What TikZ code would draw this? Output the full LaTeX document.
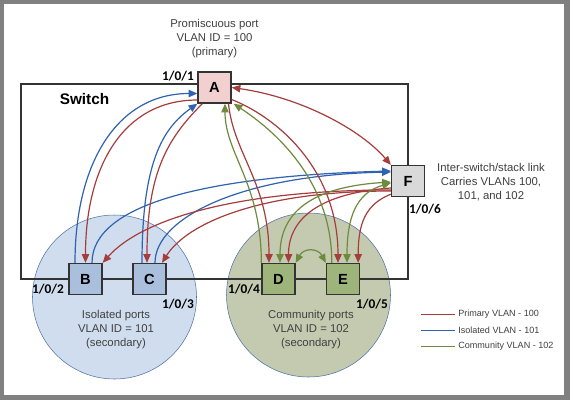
\documentclass[tikz,border=0pt]{standalone}
\usepackage{fontspec}
\setmainfont{Liberation Sans}
\newfontfamily\portfont{Carlito}
\usepackage{tikz}
\usetikzlibrary{arrows.meta,calc}

\definecolor{vlanred}{HTML}{A63D3D}
\definecolor{vlanblue}{HTML}{2F62B0}
\definecolor{vlangreen}{HTML}{6E8B3D}
\definecolor{isofill}{HTML}{D0DDEE}
\definecolor{comfill}{HTML}{C3CAB0}
\definecolor{ringline}{HTML}{4F74A6}
\definecolor{boxA}{HTML}{F2D0D0}
\definecolor{boxiso}{HTML}{A9BFDC}
\definecolor{boxcom}{HTML}{9DB57B}
\definecolor{boxF}{HTML}{D9D9D9}

\begin{document}
\begin{tikzpicture}[x=0.75pt,y=0.75pt,yscale=-1,xscale=1,
    port/.style={draw=black!80,line width=1pt,minimum width=24.75pt,minimum height=23.25pt,inner sep=0pt,font=\fontsize{11}{13}\selectfont\bfseries},
    portnum/.style={inner sep=0.75pt,font=\portfont\fontsize{10}{12}\selectfont\bfseries},
    note/.style={inner sep=0.75pt,align=center,text=black!75,font=\fontsize{8.5}{10.5}\selectfont},
    legtext/.style={inner sep=0.75pt,anchor=west,text=black!75,font=\fontsize{6.8}{8}\selectfont},
    primary/.style={draw=vlanred,line width=0.9pt},
    isolated/.style={draw=vlanblue,line width=0.9pt},
    community/.style={draw=vlangreen,line width=0.9pt},
    tip/.style={-{Triangle[length=6.5pt,width=5.5pt]}},
    twotip/.style={{Triangle[length=6.5pt,width=5.5pt]}-{Triangle[length=6.5pt,width=5.5pt]}}]
    \useasboundingbox (0,0) rectangle (570,400);

    % frame
    \fill[black!50] (0,0) rectangle (570,400);
    \fill[white] (3.5,3.5) rectangle (564,395);

    % port groups
    \draw[ringline,fill=isofill] (114.5,297) circle [radius=82];
    \draw[ringline,fill=comfill] (308.5,295) circle [radius=82];

    % switch
    \draw[black!80,line width=1.1pt] (21,84) rectangle (408,279);
    \node[inner sep=0.75pt,font=\fontsize{11.5}{13}\selectfont\bfseries] (switch) at (84.5,99) {Switch};

    % ports
    \node[port,fill=boxA] (A) at (214.5,87.5) {A};
    \node[port,fill=boxiso] (B) at (85.5,279) {B};
    \node[port,fill=boxiso] (C) at (149.5,279) {C};
    \node[port,fill=boxcom] (D) at (278.5,279) {D};
    \node[port,fill=boxcom] (E) at (343,279) {E};
    \node[port,fill=boxF] (F) at (408,181) {F};

    % isolated VLAN 101
    \draw[isolated,tip] ($(B.north)+(-10.5,0)$) .. controls +(0,-100) and +(-80,0) .. ($(A.west)+(0,6)$);
    \draw[isolated,tip] ($(C.north)+(-7.5,0)$) .. controls +(0,-100) and +(-35,25) .. (A.south west);
    \draw[isolated,tip] ($(B.north)+(6.5,0)$) .. controls +(0,-60) and +(-180,5) .. ($(F.west)+(0,-10)$);
    \draw[isolated,tip] ($(C.north)+(5.5,0)$) .. controls +(0,-45) and +(-150,3) .. ($(F.west)+(0,-9)$);

    % primary VLAN 100
    \draw[primary,tip] ($(A.west)+(0,12.5)$) .. controls +(-75,0) and +(0,-95) .. (B.north);
    \draw[primary,tip] ($(A.south west)+(5,0)$) .. controls +(-35,35) and +(0,-90) .. ($(C.north)+(-2.5,0)$);
    \draw[primary,tip] ($(A.south)+(14,0)$) .. controls +(5,50) and +(0,-80) .. ($(D.north)+(-9.5,0)$);
    \draw[primary,tip] ($(A.east)+(0,12)$) .. controls +(50,20) and +(0,-90) .. ($(E.north)+(-5,0)$);
    \draw[primary,twotip] (A.east) .. controls +(70,10) and +(-30,-35) .. (F.north west);
    \draw[primary,tip] ($(F.west)+(0,9)$) .. controls +(-150,0) and +(40,-45) .. (B.north east);
    \draw[primary,tip] ($(F.west)+(0,10)$) .. controls +(-130,0) and +(25,-40) .. ($(C.north)+(12.5,0)$);
    \draw[primary,tip] ($(F.west)+(0,7)$) .. controls +(-70,5) and +(0,-45) .. ($(D.north)+(10,0)$);
    \draw[primary,tip] ($(F.south west)+(0,-3)$) .. controls +(-25,10) and +(0,-40) .. ($(E.north east)+(-2,0)$);

    % community VLAN 102
    \draw[community,tip] (D.north west) .. controls +(0,-80) and +(0,50) .. ($(A.south)+(10.5,0)$);
    \draw[community,tip] ($(E.north west)+(6,0)$) .. controls +(0,-90) and +(30,20) .. ($(A.south east)+(2,0)$);
    \draw[community,twotip] ($(F.west)+(0,1)$) .. controls +(-80,5) and +(0,-50) .. ($(D.north)+(1.5,0)$);
    \draw[community,twotip] ($(F.west)+(0,2)$) .. controls +(-35,10) and +(0,-45) .. ($(E.north)+(4,0)$);
    \draw[community,twotip] (D.north east) .. controls +(8,-15) and +(-8,-15) .. (E.north west);

    % port numbers
    \node[portnum] (p1) at (178,76) {1/0/1};
    \node[portnum] (p2) at (48,289) {1/0/2};
    \node[portnum] (p3) at (178,304) {1/0/3};
    \node[portnum] (p4) at (244,289) {1/0/4};
    \node[portnum] (p5) at (372,304) {1/0/5};
    \node[portnum] (p6) at (425,209) {1/0/6};

    % notes
    \node[note] (promisc) at (214.5,39) {Promiscuous port\\VLAN ID = 100\\(primary)};
    \node[note] (isonote) at (116,330) {Isolated ports\\VLAN ID = 101\\(secondary)};
    \node[note] (comnote) at (311,330) {Community ports\\VLAN ID = 102\\(secondary)};
    \node[note] (trunk) at (491,182) {Inter-switch/stack link\\Carries VLANs 100,\\101, and 102};

    % legend
    \node[legtext] (lgA) at (457,314) {Primary VLAN - 100};
    \node[legtext] (lgB) at (457,330) {Isolated VLAN - 101};
    \node[legtext] (lgC) at (457,346) {Community VLAN - 102};
    \draw[primary,line width=0.7pt] ($(lgA.west)+(-2,0)$) -- ++(-34,0);
    \draw[isolated,line width=0.7pt] ($(lgB.west)+(-2,0)$) -- ++(-34,0);
    \draw[community,line width=0.7pt] ($(lgC.west)+(-2,0)$) -- ++(-34,0);

\end{tikzpicture}
\end{document}
